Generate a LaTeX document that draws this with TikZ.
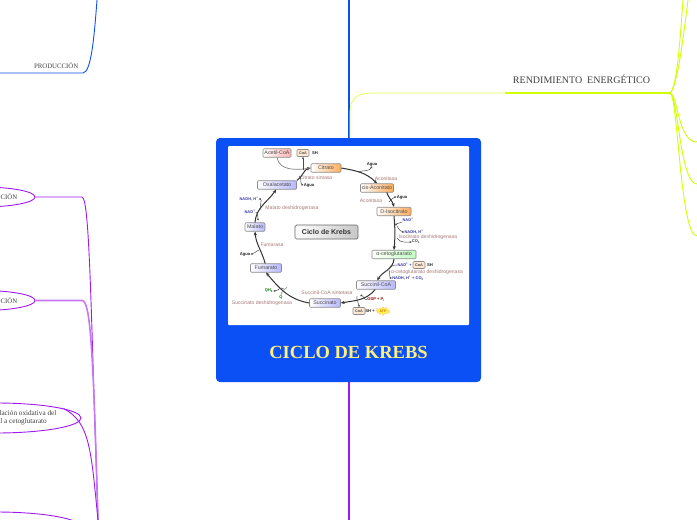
\documentclass[tikz,border=0pt]{standalone}
\usepackage{fontspec}
\setmainfont{Liberation Serif}
\setsansfont{Liberation Sans}
\usetikzlibrary{shapes.geometric,shapes.symbols,arrows.meta}
\definecolor{mapblue}{HTML}{0B50F5}
\definecolor{mappurple}{HTML}{A01AF0}
\definecolor{maplime}{HTML}{CFFF00}
\definecolor{mapgold}{HTML}{FFF07A}
\definecolor{enzyme}{HTML}{A87878}
\definecolor{cofactor}{HTML}{3A3AA8}
\tikzset{
	branchtext/.style={font=\rmfamily, text=black!75, inner sep=0pt},
	idea/.style={ellipse, draw=mappurple, line width=0.9pt, fill=white},
	kreb/.style={draw=black!45, line width=0.6pt, rounded corners=1pt, inner sep=0pt, minimum height=8.5pt, font=\sffamily\fontsize{5.3}{6}\selectfont, text=black!70},
	orangebox/.style={kreb, left color=white, right color=orange!65},
	lilacbox/.style={kreb, left color=white, right color=blue!28},
	pinkbox/.style={kreb, left color=white, right color=red!30},
	greenbox/.style={kreb, left color=white, right color=green!25},
	coabox/.style={kreb, minimum height=7pt, minimum width=12pt, fill=orange!18, font=\sffamily\bfseries\fontsize{3.8}{4}\selectfont},
	enz/.style={inner sep=0pt, text=enzyme, font=\sffamily\fontsize{5.1}{6}\selectfont},
	cof/.style={inner sep=0pt, text=cofactor, font=\sffamily\bfseries\fontsize{4}{5}\selectfont},
	water/.style={inner sep=0pt, text=black!85, font=\sffamily\bfseries\fontsize{4.2}{5}\selectfont},
	cyc/.style={line width=1pt, black!80, -{Stealth[length=3.8pt,width=3.2pt]}},
	side/.style={line width=0.5pt, black!70, -{Stealth[length=2.4pt,width=2pt]}}
}

\begin{document}
\begin{tikzpicture}[x=1pt, y=-1pt]
	\useasboundingbox (0, 0) rectangle (697, 520);
	\clip (0, 0) rectangle (697, 520);
	%%%%% BRANCHES %%%%%

	\coordinate (topblue) at (349, 0);
	\coordinate (bottompurple) at (349, 520);
	\coordinate (centertop) at (349, 140);
	\coordinate (centerbottom) at (349, 380);

	\draw[mapblue, line width=2.8pt] (topblue) -- (centertop);
	\draw[mappurple, line width=2.8pt] (centerbottom) -- (bottompurple);

	% left, blue
	\node[branchtext, font=\rmfamily\fontsize{6.8}{7}\selectfont, anchor=south east] (produccion) at (78.5, 69) {PRODUCCIÓN};
	\coordinate (prodstart) at (0, 73);
	\coordinate (prodknee) at (83, 73);
	\coordinate (prodtop) at (97, 0);
	\draw[mapblue, line width=0.9pt] (prodstart) -- (prodknee) .. controls (91, 72) and (94, 40) .. (prodtop);

	% left, purple
	\node[idea, minimum width=106pt, minimum height=20pt] (ideaa) at (-18, 197) {};
	\node[branchtext, font=\rmfamily\fontsize{6.8}{7}\selectfont, anchor=east] (ideaatext) at (17.5, 197) {CIÓN};
	\node[idea, minimum width=106pt, minimum height=20pt] (ideab) at (-18, 300.5) {};
	\node[branchtext, font=\rmfamily\fontsize{6.8}{7}\selectfont, anchor=east] (ideabtext) at (17.5, 300.5) {CIÓN};
	\node[idea, minimum width=170pt, minimum height=30pt] (ideac) at (-4, 418) {};
	\node[branchtext, font=\rmfamily\fontsize{7.2}{8}\selectfont, anchor=east] (ideactext) at (56.5, 413.5) {lación oxidativa del};
	\node[branchtext, font=\rmfamily\fontsize{7.2}{8}\selectfont, anchor=east] (ideactextb) at (47, 422) {l a cetoglutarato};
	\node[idea, minimum width=170pt, minimum height=30pt] (idead) at (-4, 527) {};

	\coordinate (purplefoot) at (98, 520);
	\coordinate (kneea) at (82, 197);
	\coordinate (kneeb) at (82, 300.5);
	\draw[mappurple, line width=0.9pt] (ideaa.east) -- (kneea) .. controls (90, 198) and (91, 320) .. (purplefoot);
	\draw[mappurple!60, line width=1.6pt] (ideab.east) -- (kneeb) .. controls (90, 301) and (93, 340) .. (purplefoot);
	\draw[mappurple, line width=0.9pt] (ideac.8) .. controls (90, 422) and (91, 450) .. (purplefoot);

	% right, lime
	\coordinate (limehub) at (670, 93);
	\coordinate (limeleft) at (350, 138);
	\coordinate (limemid) at (505, 93);
	\coordinate (limetopa) at (683, 0);
	\coordinate (limetopb) at (688, 0);
	\coordinate (limeenda) at (697, 142);
	\coordinate (limeendb) at (697, 184);
	\coordinate (limeendc) at (697, 236);
	\node[branchtext, font=\rmfamily\fontsize{10}{11}\selectfont, anchor=base] (rendimiento) at (581.5, 83.5) {RENDIMIENTO\ \ ENERGÉTICO};

	\draw[maplime!70, line width=0.7pt] (limeleft) -- (350, 112) .. controls (350, 98) and (358, 93) .. (372, 93) -- (limemid);
	\draw[maplime, line width=1.2pt] (limemid) -- (limehub);
	\draw[maplime, line width=0.9pt] (limehub) .. controls (677, 88) and (680, 40) .. (limetopa);
	\draw[maplime, line width=0.9pt] (limehub) .. controls (677, 88) and (683, 40) .. (limetopb);
	\draw[maplime, line width=0.9pt] (limehub) .. controls (678, 95) and (678, 142) .. (limeenda);
	\draw[maplime, line width=0.9pt] (limehub) .. controls (678, 95) and (680, 184) .. (limeendb);
	\draw[maplime, line width=0.9pt] (limehub) .. controls (678, 95) and (680, 236) .. (limeendc);

	%%%%% CENTRAL TOPIC %%%%%

	\draw[fill=mapblue, draw=none, rounded corners=4pt] (216, 138) rectangle (481, 382);
	\draw[fill=white, draw=none, rounded corners=1pt] (228, 146) rectangle (469, 325);
	\node[font=\rmfamily\bfseries\fontsize{18.5}{20}\selectfont, text=mapgold, inner sep=0pt] (title) at (348.5, 352) {CICLO DE KREBS};

	%%%%% KREBS CYCLE %%%%%

	\node[pinkbox, minimum width=28pt] (acetil) at (277, 153) {Acetil-CoA};
	\node[coabox] (coatop) at (303, 153) {CoA};
	\node[orangebox, minimum width=30pt] (citrato) at (326, 168) {Citrato};
	\node[lilacbox, minimum width=39pt] (oxal) at (277, 185) {Oxalacetato};
	\node[lilacbox, minimum width=20pt] (malato) at (255, 227) {Malato};
	\node[lilacbox, minimum width=31pt] (fumarato) at (266, 268) {Fumarato};
	\node[lilacbox, minimum width=31pt] (succinato) at (325, 303) {Succinato};
	\node[lilacbox, minimum width=39pt] (succinil) at (376, 285) {Succinil-CoA};
	\node[greenbox, minimum width=44pt] (aceto) at (394, 254.5) {α-cetoglutarato};
	\node[orangebox, minimum width=34pt] (isocitrato) at (394, 211.5) {D-Isocitrato};
	\node[orangebox, minimum width=33pt] (cis) at (377, 188) {cis-Aconitato};
	\node[draw=black!60, line width=0.7pt, rounded corners=1.5pt, left color=white, right color=black!22, minimum width=63pt, minimum height=14pt, inner sep=0pt, font=\sffamily\bfseries\fontsize{7}{8}\selectfont, text=black!80] (krebs) at (326.5, 232) {Ciclo de Krebs};

	\node[coabox] (coaa) at (419, 265) {CoA};
	\node[coabox] (coab) at (359, 311) {CoA};
	\node[starburst, starburst points=12, starburst point height=2.5pt, fill=yellow!70, draw=orange!50, line width=0.3pt, inner sep=0.6pt, font=\sffamily\bfseries\fontsize{3.4}{4}\selectfont, text=orange!80!black] (atp) at (383, 311) {ATP};

	% labels
	\node[water] (shtop) at (315, 153) {SH};
	\node[enz] (sintasa) at (316, 178) {Citrato sintasa};
	\node[water] (aguaa) at (309, 185) {Agua};
	\node[enz] (malatodh) at (292, 208) {Malato deshidrogenasa};
	\node[cof] (nadha) at (249, 199) {NADH, H\textsuperscript{+}};
	\node[cof] (nada) at (250, 212) {NAD\textsuperscript{+}};
	\node[water] (aguab) at (372, 164) {Agua};
	\node[enz] (aconita) at (386, 179) {Aconitasa};
	\node[enz] (aconitb) at (371, 201) {Aconitasa};
	\node[water] (aguac) at (402, 197) {Agua};
	\node[cof] (nadb) at (408, 220) {NAD\textsuperscript{+}};
	\node[cof] (nadhb) at (414, 232) {NADH, H\textsuperscript{+}};
	\node[enz] (isodh) at (428, 237) {Isocitrato deshidrogenasa};
	\node[cof, text=black!70] (coa) at (416, 242) {CO\textsubscript{2}};
	\node[cof, anchor=east] (nadc) at (412, 265) {NAD\textsuperscript{+} +};
	\node[water] (sha) at (430, 265) {SH};
	\node[enz] (cetodh) at (427, 272) {α-cetoglutarato deshidrogenasa};
	\node[cof] (nadhc) at (408, 278) {NADH, H\textsuperscript{+} + CO\textsubscript{2}};
	\node[cof, text=red!60!black] (gdp) at (376, 300) {GDP + P\textsubscript{i}};
	\node[water] (shb) at (370, 311) {SH +};
	\node[enz] (sintetasa) at (327, 292.5) {Succinil-CoA sintetasa};
	\node[enz] (fumarasa) at (272, 245) {Fumarasa};
	\node[water] (aguad) at (245, 254) {Agua};
	\node[cof, text=green!50!black] (qh) at (269, 291) {QH\textsubscript{2}};
	\node[cof, text=green!50!black] (qq) at (281, 297) {Q};
	\node[enz] (succdh) at (262, 303) {Succinato deshidrogenasa};

	% cycle
	\draw[cyc] (citrato.east) to[out=-10, in=135] (cis.north);
	\draw[cyc] (cis.-25) to[out=-70, in=105] (isocitrato.north);
	\draw[cyc] (isocitrato.south) to[out=-85, in=85] (aceto.north);
	\draw[cyc] (aceto.south) to[out=-95, in=60] (succinil.75);
	\draw[cyc] (succinil.-100) to[out=-130, in=10] (succinato.east);
	\draw[cyc] (succinato.west) to[out=170, in=-50] (fumarato.south);
	\draw[cyc] (fumarato.100) to[out=105, in=-85] (malato.south);
	\draw[cyc] (malato.north) to[out=85, in=-125] (oxal.-100);
	\draw[cyc] (oxal.north east) to[out=30, in=190] (citrato.west);
	\draw[line width=0.7pt, black!50] (acetil.south) to[out=-80, in=190] (citrato.west);

	% side arrows
	\coordinate (sidecoa) at (303, 170);
	\draw[side] (sidecoa) -- (coatop.south);
	\coordinate (sideagua) at (299, 176);
	\draw[side] (sideagua) to[out=-30, in=170] (aguaa.west);
	\coordinate (sidemal) at (258, 218);
	\draw[side] (nada.east) to[out=0, in=-90] (sidemal);
	\coordinate (sidemalb) at (261, 210);
	\draw[side] (sidemalb) to[out=120, in=0] (nadha.east);
	\coordinate (sideaco) at (358, 172);
	\draw[side] (sideaco) to[out=20, in=-110] (aguab.south);
	\coordinate (sideiso) at (389, 202);
	\draw[side] (sideiso) to[out=40, in=180] (aguac.west);
	\coordinate (sidenad) at (396, 226);
	\draw[side] (nadb.south west) to[out=-150, in=90] (sidenad);
	\coordinate (sidenadh) at (397, 226);
	\draw[side] (sidenadh) to[out=-60, in=180] (nadhb.west);
	\coordinate (sideco) at (397, 238);
	\draw[side] (sideco) to[out=-60, in=180] (coa.west);
	\coordinate (sidenadc) at (390, 268);
	\draw[side] (nadc.west) to[out=180, in=60] (sidenadc);
	\coordinate (sidenadhc) at (389, 270);
	\draw[side] (sidenadhc) to[out=-60, in=180] (nadhc.west);
	\coordinate (sidegdp) at (360, 296);
	\draw[side] (gdp.west) to[out=180, in=20] (sidegdp);
	\coordinate (sidecoab) at (357, 296);
	\draw[side] (sidecoab) to[out=-100, in=90] (coab.north);
	\coordinate (sideagb) at (259, 250);
	\draw[side] (sideagb) to[out=-160, in=0] (aguad.east);
	\coordinate (sideq) at (287, 287);
	\draw[line width=0.5pt, black!50] (qq.north) to[out=90, in=-120] (sideq);
	\coordinate (sideqh) at (284, 289);
	\draw[side] (sideqh) to[out=140, in=0] (qh.east);

\end{tikzpicture}
\end{document}
